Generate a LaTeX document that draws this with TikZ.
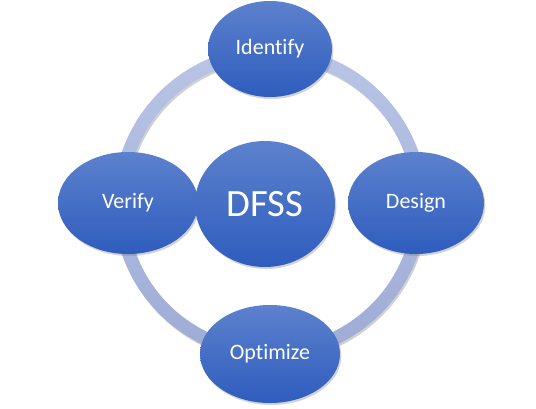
\documentclass[tikz,border=0pt]{standalone}
\usepackage{fontspec}
\setmainfont{Carlito}[Ligatures={NoCommon}]
\usetikzlibrary{positioning, shapes.geometric, shadows}

\definecolor{ringtop}{HTML}{B8C5E6}
\definecolor{ringbot}{HTML}{9EACD6}
\definecolor{balltop}{HTML}{5C81CD}
\definecolor{ballbot}{HTML}{2F5DBE}

\begin{document}
\begin{tikzpicture}[
    x=0.75pt, y=-0.75pt, % 以像素為單位
    % --- 樣式定義 ---
    % 藍色橢圓
    step ball/.style={
        ellipse,
        draw=none,
        top color=balltop,
        bottom color=ballbot,
        text=white,
        inner sep=0pt,
        font=\fontsize{16.5}{19}\selectfont,
        drop shadow={opacity=0.35, shadow xshift=1pt, shadow yshift=-1.5pt}
    },
    % 中心橢圓
    core ball/.style={
        step ball,
        font=\fontsize{29}{33}\selectfont
    }
]
    \useasboundingbox (0,0) rectangle (536,408);

    % ====== 外圈 ======
    \coordinate (hub) at (270,203);
    \fill[black, opacity=0.18, even odd rule]
        ([xshift=1pt, yshift=-1.5pt]hub) circle (117.5pt)
        ([xshift=1pt, yshift=-1.5pt]hub) circle (107.5pt);
    \shade[even odd rule, top color=ringtop, bottom color=ringbot]
        (hub) circle (117.5pt) (hub) circle (107.5pt);

    % ====== 四個步驟 ======
    \node[step ball, minimum width=93pt, minimum height=72pt] (identify) at (270,49) {\raisebox{-2pt}{Identify}};
    \node[step ball, minimum width=102pt, minimum height=76.5pt] (design) at (416,203) {Design};
    \node[step ball, minimum width=105pt, minimum height=73.5pt] (optimize) at (270,354) {Optimize};
    \node[step ball, minimum width=105pt, minimum height=76.5pt] (verify) at (128,203) {Verify};

    % ====== 中心 ======
    \node[core ball, minimum width=105pt, minimum height=94.5pt] (dfss) at (265,204) {DFSS};

\end{tikzpicture}
\end{document}
